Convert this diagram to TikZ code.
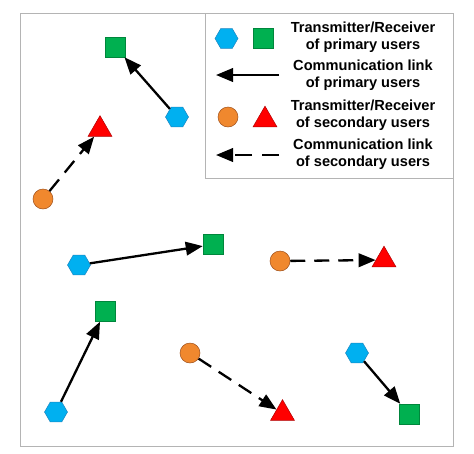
\documentclass[tikz,border=0pt]{standalone}
\usepackage{fontspec}
\setmainfont{Liberation Sans}
\usetikzlibrary{shapes.geometric,arrows.meta}
\definecolor{hexc}{HTML}{00B0F0}
\definecolor{hexd}{HTML}{1F86C0}
\definecolor{sqc}{HTML}{00B050}
\definecolor{sqd}{HTML}{00863C}
\definecolor{circc}{HTML}{F0882E}
\definecolor{circd}{HTML}{A0501A}
\definecolor{tric}{HTML}{FF0000}
\definecolor{trid}{HTML}{B00000}
\definecolor{framec}{HTML}{B4B4B4}
\tikzset{
  hexnode/.style={regular polygon,regular polygon sides=6,minimum size=23pt,inner sep=0pt,fill=hexc,draw=hexd,line width=0.5pt},
  sqnode/.style={rectangle,minimum size=20pt,inner sep=0pt,fill=sqc,draw=sqd,line width=0.5pt},
  circnode/.style={circle,minimum size=20pt,inner sep=0pt,fill=circc,draw=circd,line width=0.5pt},
  trinode/.style={regular polygon,regular polygon sides=3,minimum size=27.7pt,inner sep=0pt,fill=tric,draw=trid,line width=0.5pt},
  plink/.style={line width=2.3pt,-{Triangle[length=17pt,width=13.5pt]}},
  slink/.style={plink,dash pattern=on 15pt off 9pt},
  legtext/.style={align=center,font=\bfseries\fontsize{14.6}{17.2}\selectfont,inner sep=0pt},
  boxline/.style={draw=framec,line width=1pt}
}
\begin{document}
\begin{tikzpicture}[x=1pt,y=-1pt]
\useasboundingbox (0,0) rectangle (474,453);
\draw[boxline] (20.5,13) rectangle (453,446.5);
\draw[boxline] (205,13) rectangle (453,178.5);
% legend
\node[hexnode] (lh) at (226.5,38.5) {};
\node[sqnode] (ls) at (263,38.5) {};
\coordinate (la1) at (279,75);
\coordinate (la2) at (216,75);
\draw[plink] (la1) -- (la2);
\node[circnode] (lc) at (228,117) {};
\node[trinode] (lt) at (265,120) {};
\coordinate (lb1) at (279,155);
\coordinate (lb2) at (216,155);
\draw[slink,dash pattern=on 17pt off 10pt,dash phase=0pt] (lb1) -- (lb2);
\node[legtext] (t1) at (363,37.5) {Transmitter/Receiver\\of primary users};
\node[legtext] (t2) at (363,75.5) {Communication link\\of primary users};
\node[legtext] (t3) at (363,115) {Transmitter/Receiver\\of secondary users};
\node[legtext] (t4) at (363,154.5) {Communication link\\of secondary users};
% pairs
\node[hexnode] (h1) at (177,117) {};
\node[sqnode] (s1) at (115.5,47) {};
\draw[plink] (h1) -- (s1);
\node[circnode] (c1) at (43,199) {};
\node[trinode] (r1) at (100,129.5) {};
\draw[slink] (c1) -- (r1);
\node[hexnode] (h2) at (79,265) {};
\node[sqnode] (s2) at (213,244.5) {};
\draw[plink] (h2) -- (s2);
\node[circnode] (c2) at (280,261) {};
\node[trinode] (r2) at (384,260) {};
\draw[slink] (c2) -- (r2);
\node[hexnode] (h3) at (56,412) {};
\node[sqnode] (s3) at (105,311.5) {};
\draw[plink] (h3) -- (s3);
\node[circnode] (c3) at (190,353) {};
\node[trinode] (r3) at (282.5,413.5) {};
\draw[slink] (c3) -- (r3);
\node[hexnode] (h4) at (357,353) {};
\node[sqnode] (s4) at (409,414) {};
\draw[plink] (h4) -- (s4);
\end{tikzpicture}
\end{document}
